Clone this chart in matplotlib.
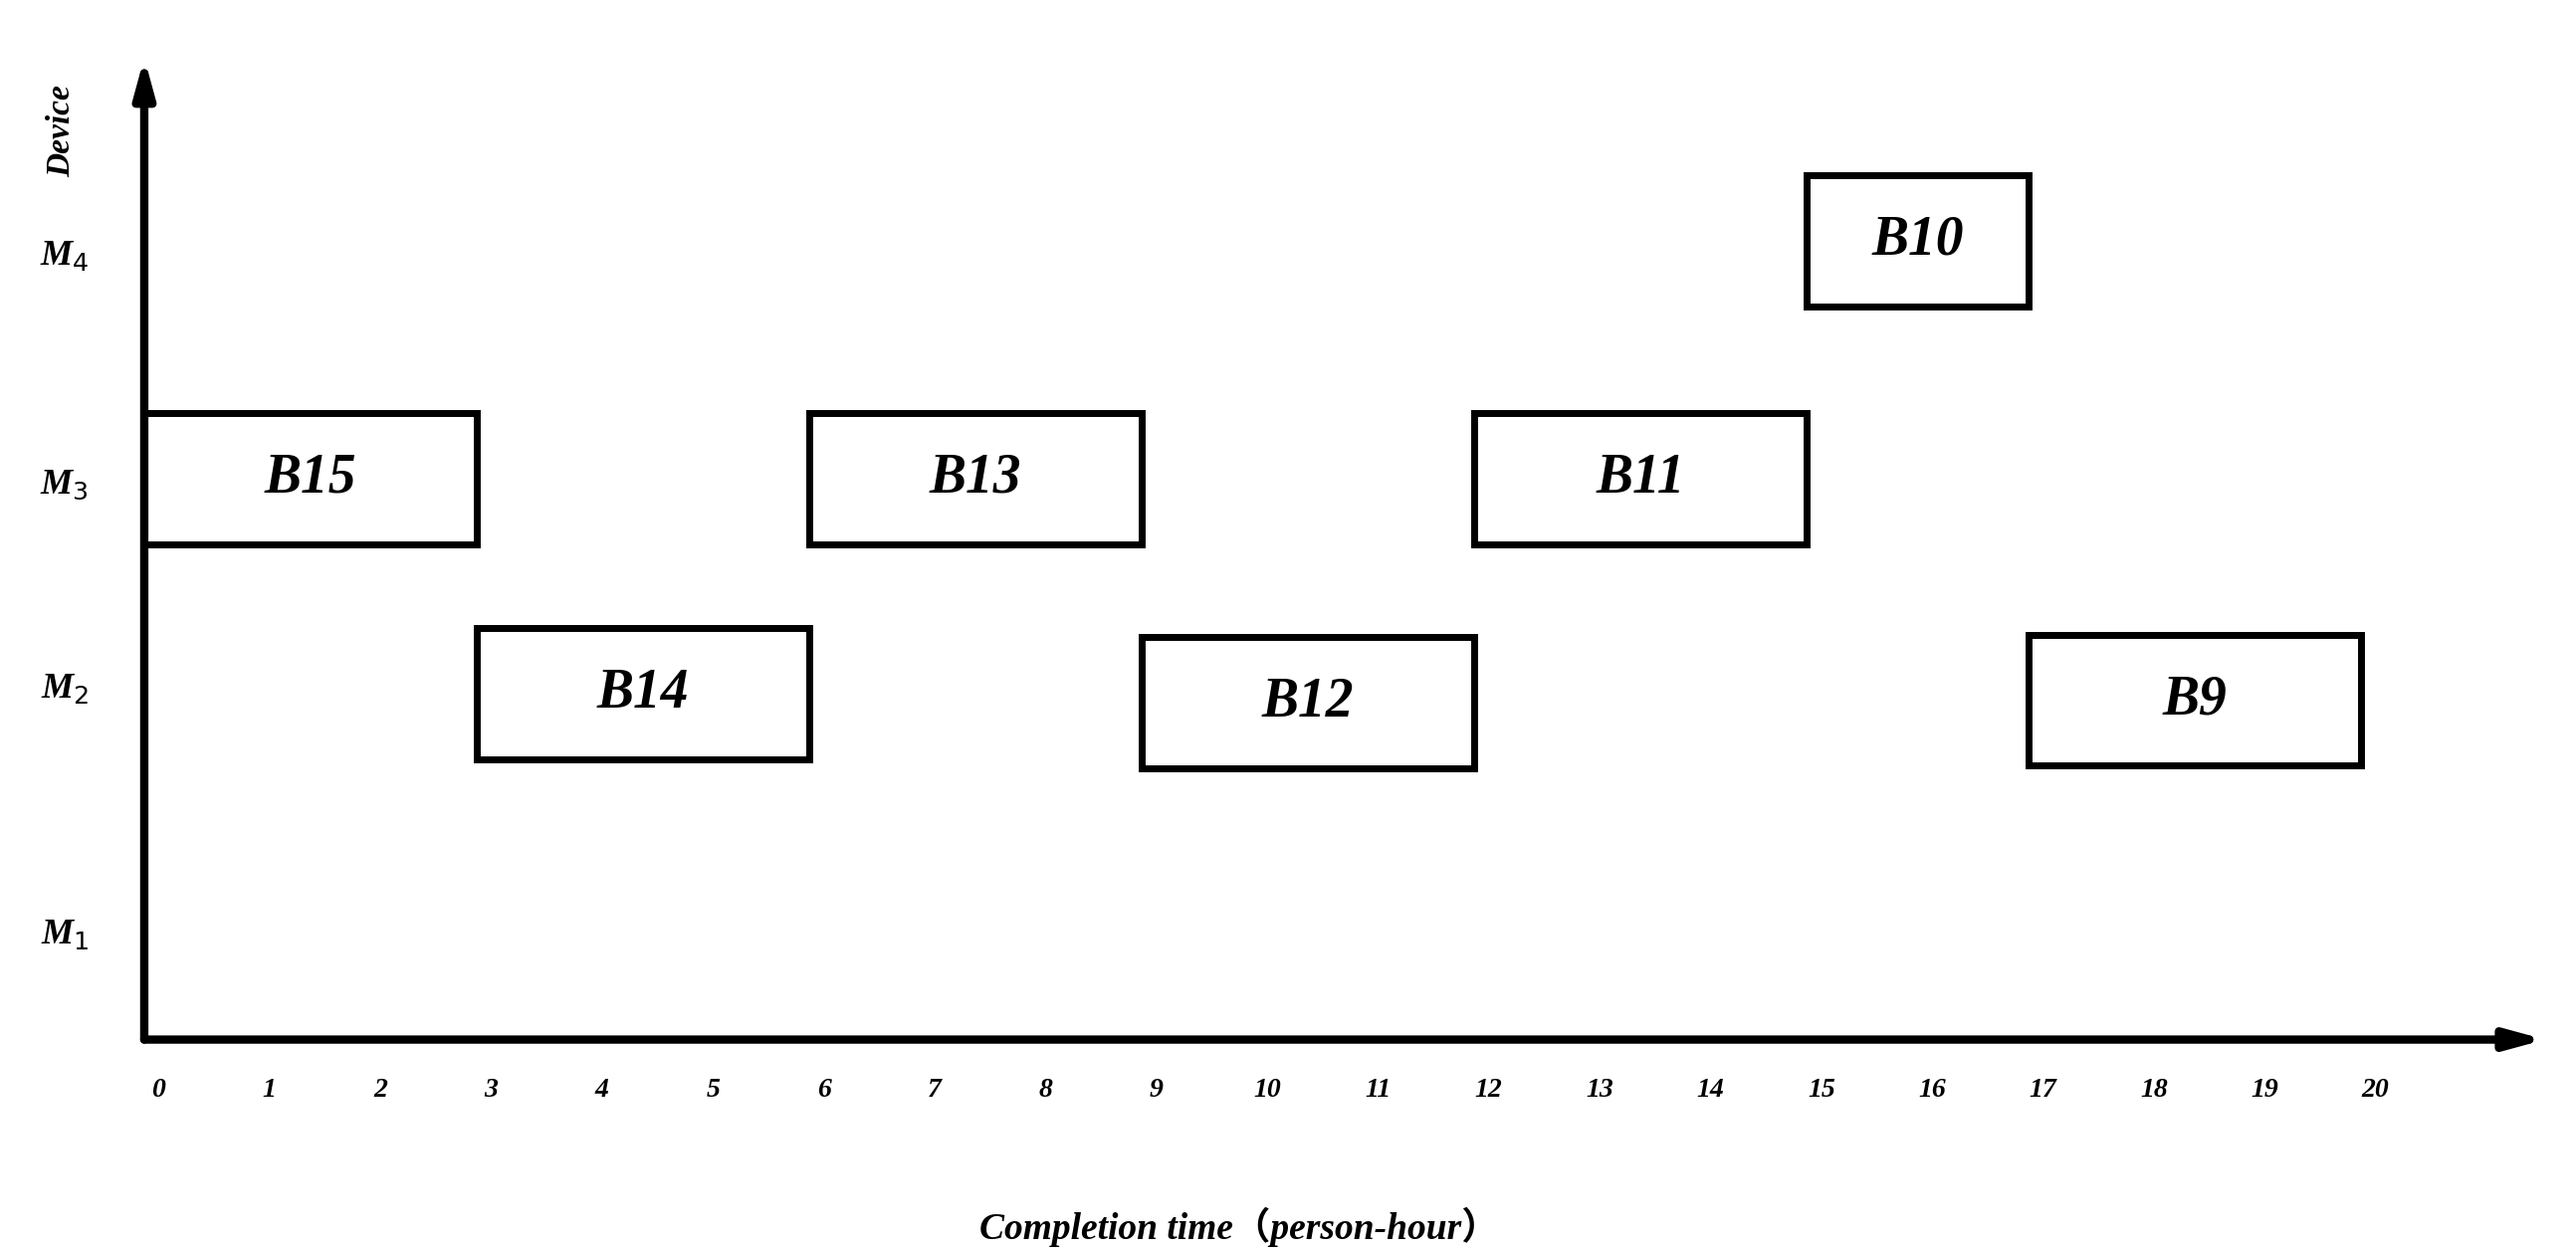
import matplotlib
matplotlib.use("Agg")
import matplotlib.pyplot as plt
from matplotlib.patches import Rectangle

devices = ["M$_1$", "M$_2$", "M$_3$", "M$_4$"]
device_pos = [1.0, 2.09, 2.99, 4.0]
jobs = ["B15", "B14", "B13", "B12", "B11", "B10", "B9"]
starts = [0, 3, 6, 9, 12, 15, 17]
ends = [3, 6, 9, 12, 15, 17, 20]
rows = [3.0, 2.05, 3.0, 2.01, 3.0, 4.05, 2.02]
xticks = list(range(0, 21))

fam = ["Liberation Serif", "Noto Sans CJK SC"]
fig = plt.figure(figsize=(25.88, 12.57), dpi=100)
ax = fig.add_axes([0.056, 0.169, 0.932, 0.785])
ax.set_xlim(0, 21.66)
ax.set_ylim(0.52, 4.86)
for s in ax.spines.values():
    s.set_visible(False)

ax.annotate("", xy=(1, 0), xytext=(0, 0), xycoords="axes fraction",
            arrowprops=dict(arrowstyle="-|>,head_length=2.2,head_width=0.6", lw=6, color="black", shrinkA=0, shrinkB=0))
ax.annotate("", xy=(0, 1), xytext=(0, 0), xycoords="axes fraction",
            arrowprops=dict(arrowstyle="-|>,head_length=2.2,head_width=0.6", lw=6, color="black", shrinkA=0, shrinkB=0))

h = 0.58
for j, s, e, r in zip(jobs, starts, ends, rows):
    ax.add_patch(Rectangle((s, r - h / 2), e - s, h, fill=False, lw=5, edgecolor="black", zorder=3))
    ax.text((s + e) / 2, r, j, ha="center", va="center", fontsize=40,
            fontweight="bold", fontstyle="italic", family=fam)

ax.set_xticks([x + 0.13 for x in xticks])
ax.set_xticklabels([str(x) for x in xticks], fontsize=20, fontweight="bold",
                   fontstyle="italic", family=fam)
ax.set_yticks(device_pos)
ax.set_yticklabels(devices, fontsize=26, fontweight="bold", fontstyle="italic", family=fam)
ax.tick_params(length=0, pad=28)
ax.tick_params(axis="y", pad=40)
ax.set_xlabel("Completion time（person-hour）", fontsize=27, fontweight="bold",
              fontstyle="italic", family=fam, labelpad=40)
ax.xaxis.set_label_coords(0.456, -0.17)
fig.text(0.024, 0.895, "Device", rotation=90, fontsize=24, fontweight="bold",
         fontstyle="italic", family=fam, ha="center", va="center")

fig.savefig("out.png", dpi=100)
